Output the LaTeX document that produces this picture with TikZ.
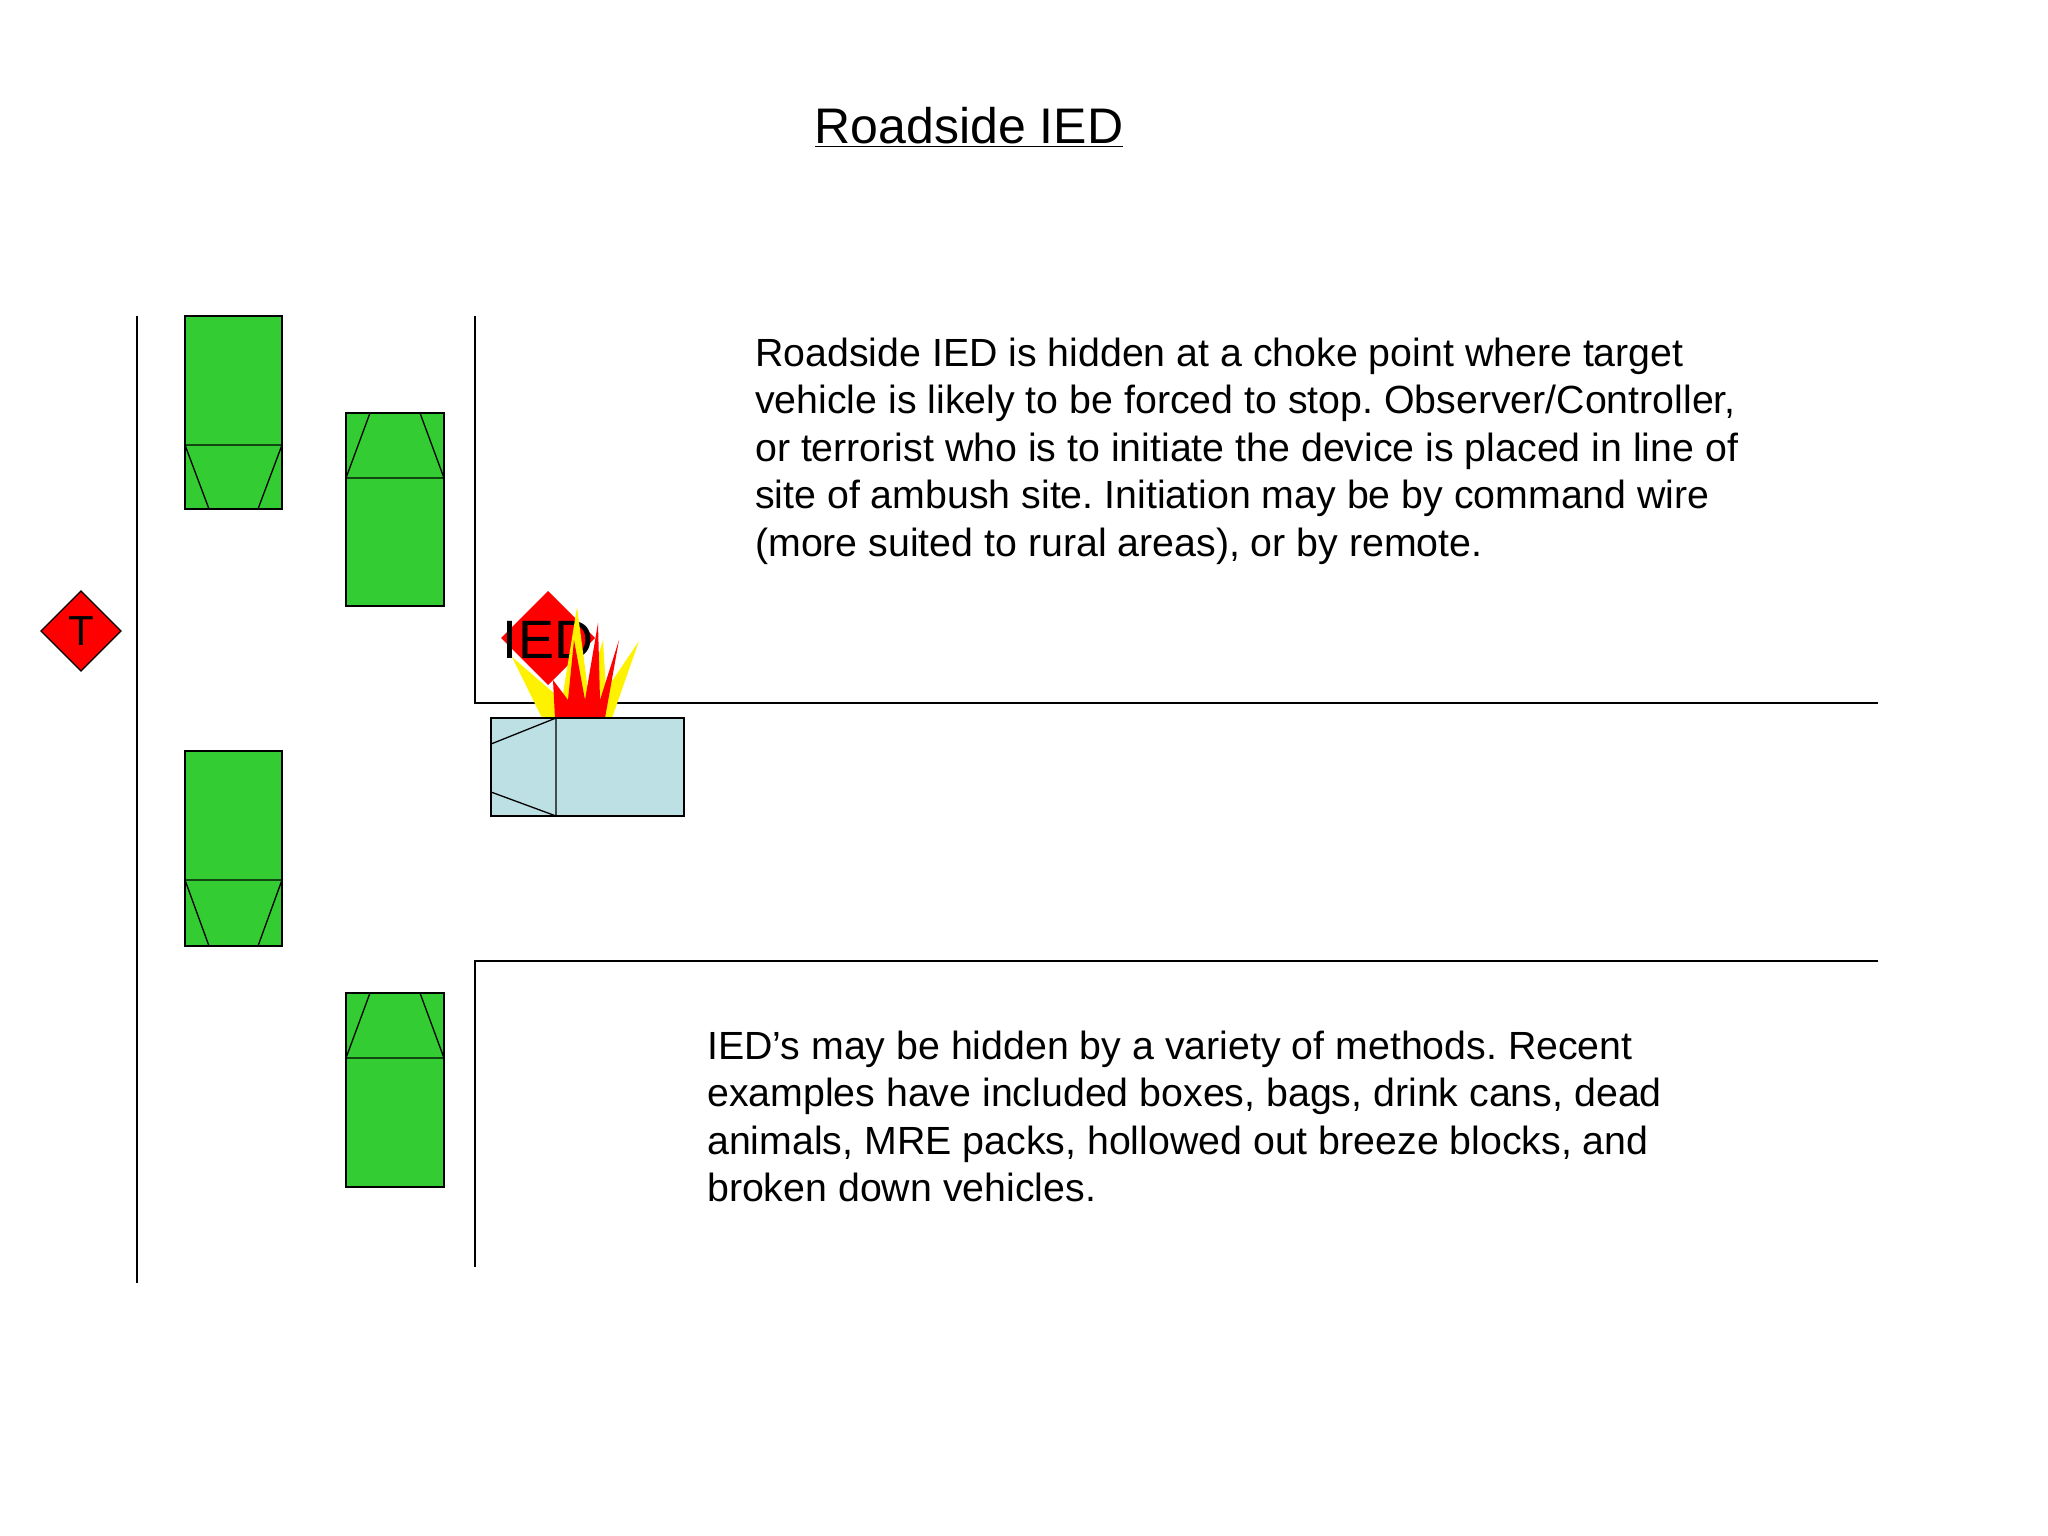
\documentclass[tikz,border=0pt]{standalone}
\usepackage{fontspec}
\setmainfont{Liberation Sans}
\begin{document}
\frenchspacing
\begin{tikzpicture}[x=1pt,y=-1pt,
  wall/.style={line width=1.6pt,black},
  ln/.style={draw=black,line width=1.3pt},
  txt/.style={anchor=base west,inner sep=0pt,font=\fontsize{39.3}{46}\selectfont}]
\definecolor{cargreen}{RGB}{51,204,51}
\definecolor{truck}{RGB}{189,224,228}
\useasboundingbox (0,0) rectangle (2048,1536);
\fill[white] (0,0) rectangle (2048,1536);
% title
\node[inner sep=0pt,font=\fontsize{50}{60}\selectfont] (title) at (969,127) {\underline{Roadside IED}};
% walls
\draw[wall] (137,316) coordinate (l1) -- (137,1283) coordinate (l2);
\draw[wall] (475,316) coordinate (m1) -- (475,703) coordinate (m2) -- (1878,703) coordinate (m3);
\draw[wall] (1878,961) coordinate (n1) -- (475,961) coordinate (n2) -- (475,1267) coordinate (n3);
% car 1
\filldraw[ln,fill=cargreen] (185,316) rectangle (282,509);
\draw[ln] (185,445) -- (282,445) (185,445) -- (209,509) (282,445) -- (258,509);
% car 2
\filldraw[ln,fill=cargreen] (346,413) rectangle (444,606);
\draw[ln] (346,478) -- (444,478) (346,478) -- (370,413) (444,478) -- (420,413);
% car 3
\filldraw[ln,fill=cargreen] (185,751) rectangle (282,946);
\draw[ln] (185,880) -- (282,880) (185,880) -- (209,946) (282,880) -- (258,946);
% car 4
\filldraw[ln,fill=cargreen] (346,993) rectangle (444,1187);
\draw[ln] (346,1058) -- (444,1058) (346,1058) -- (370,993) (444,1058) -- (420,993);
% T
\filldraw[ln,fill=red] (81,591) -- (121,631) -- (81,671) -- (41,631) -- cycle;
\node[inner sep=0pt,font=\fontsize{42}{48}\selectfont] (t) at (81,631) {T};
% IED diamond
\fill[red] (548,591) -- (595,638) -- (548,685) -- (501,638) -- cycle;
\node[inner sep=0pt,font=\fontsize{54}{60}\selectfont] (ied) at (548,640) {IED};
% flames
\fill[yellow] (542,718) -- (512,657) -- (562,700) -- (577,607) -- (588,690) -- (603,640) -- (606,690) -- (639,641) -- (612,718) -- cycle;
\fill[red] (555,718) -- (553,680) -- (568,700) -- (574,640) -- (585,700) -- (598,623) -- (600,700) -- (619,640) -- (605,718) -- cycle;
% truck
\filldraw[ln,fill=truck] (491,718) rectangle (684,816);
\draw[ln] (556,718) -- (556,816) (556,718) -- (491,744) (556,816) -- (491,792);
% text
\node[txt] (p1) at (755,366) {Roadside IED is hidden at a choke point where target};
\node[txt] (p2) at (755,413) {vehicle is likely to be forced to stop. Observer/Controller,};
\node[txt] (p3) at (755,461) {or terrorist who is to initiate the device is placed in line of};
\node[txt] (p4) at (755,508) {site of ambush site. Initiation may be by command wire};
\node[txt] (p5) at (755,556) {(more suited to rural areas), or by remote.};
\node[txt] (q1) at (707,1059) {IED’s may be hidden by a variety of methods. Recent};
\node[txt] (q2) at (707,1106) {examples have included boxes, bags, drink cans, dead};
\node[txt] (q3) at (707,1154) {animals, MRE packs, hollowed out breeze blocks, and};
\node[txt] (q4) at (707,1201) {broken down vehicles.};
\end{tikzpicture}
\end{document}
